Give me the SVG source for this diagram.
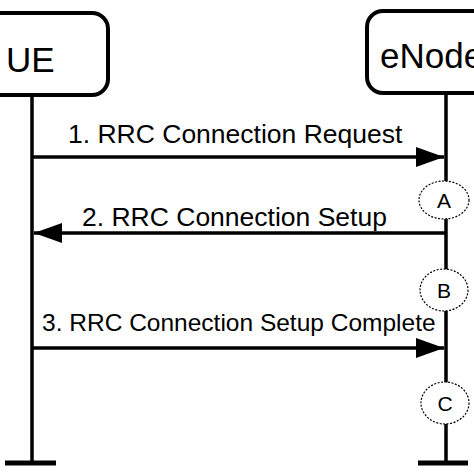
<svg xmlns="http://www.w3.org/2000/svg" width="474" height="474" viewBox="0 0 474 474">
<defs>
<style>
.box{fill:#fff;stroke:#000;stroke-width:4}
.life{stroke:#000;stroke-width:3.5;fill:none}
.bar{stroke:#000;stroke-width:5}
.msg{stroke:#000;stroke-width:3.5;fill:none}
.state{fill:#fff;stroke:#000;stroke-width:1.2;stroke-dasharray:2 1.5}
.name{font-family:"Liberation Sans",Arial,sans-serif;font-size:35px;fill:#000}
.lbl{font-family:"Liberation Sans",Arial,sans-serif;fill:#000}
.st{font-family:"Liberation Sans",Arial,sans-serif;font-size:21px;fill:#000;text-anchor:middle}
</style>
<marker id="ah" markerWidth="30" markerHeight="20" refX="28" refY="10" orient="auto" markerUnits="userSpaceOnUse">
<path d="M0,0 L28,10 L0,20 Z" fill="#000"/>
</marker>
</defs>
<rect width="474" height="474" fill="#fff"/>
<g id="UE">
<rect class="box" x="-44" y="13" width="152" height="82" rx="16"/>
<text class="name" x="6" y="72">UE</text>
<line class="life" x1="32" y1="95" x2="32" y2="463"/>
<line class="bar" x1="5" y1="463" x2="56" y2="463"/>
</g>
<g id="eNodeB">
<rect class="box" x="367" y="11" width="158" height="82" rx="16"/>
<text class="name" x="380" y="68">eNodeB</text>
<line class="life" x1="446" y1="93" x2="446" y2="463"/>
<line class="bar" x1="418" y1="463" x2="468" y2="463"/>
</g>
<g id="connectors">
<line class="msg" x1="32" y1="157" x2="444" y2="157" marker-end="url(#ah)"/>
<text class="lbl" x="68" y="143" font-size="26.5">1. RRC Connection Request</text>
<line class="msg" x1="446" y1="233" x2="34" y2="233" marker-end="url(#ah)"/>
<text class="lbl" x="82" y="226" font-size="26.5">2. RRC Connection Setup</text>
<line class="msg" x1="32" y1="348" x2="444" y2="348" marker-end="url(#ah)"/>
<text class="lbl" x="42" y="331" font-size="24.5">3. RRC Connection Setup Complete</text>
</g>
<g id="A">
<ellipse class="state" cx="444" cy="200" rx="25" ry="19"/>
<text class="st" x="444" y="208">A</text>
</g>
<g id="B">
<ellipse class="state" cx="444" cy="290" rx="24" ry="21"/>
<text class="st" x="444" y="298">B</text>
</g>
<g id="C">
<ellipse class="state" cx="445" cy="403" rx="24" ry="21"/>
<text class="st" x="445" y="411">C</text>
</g>
</svg>
